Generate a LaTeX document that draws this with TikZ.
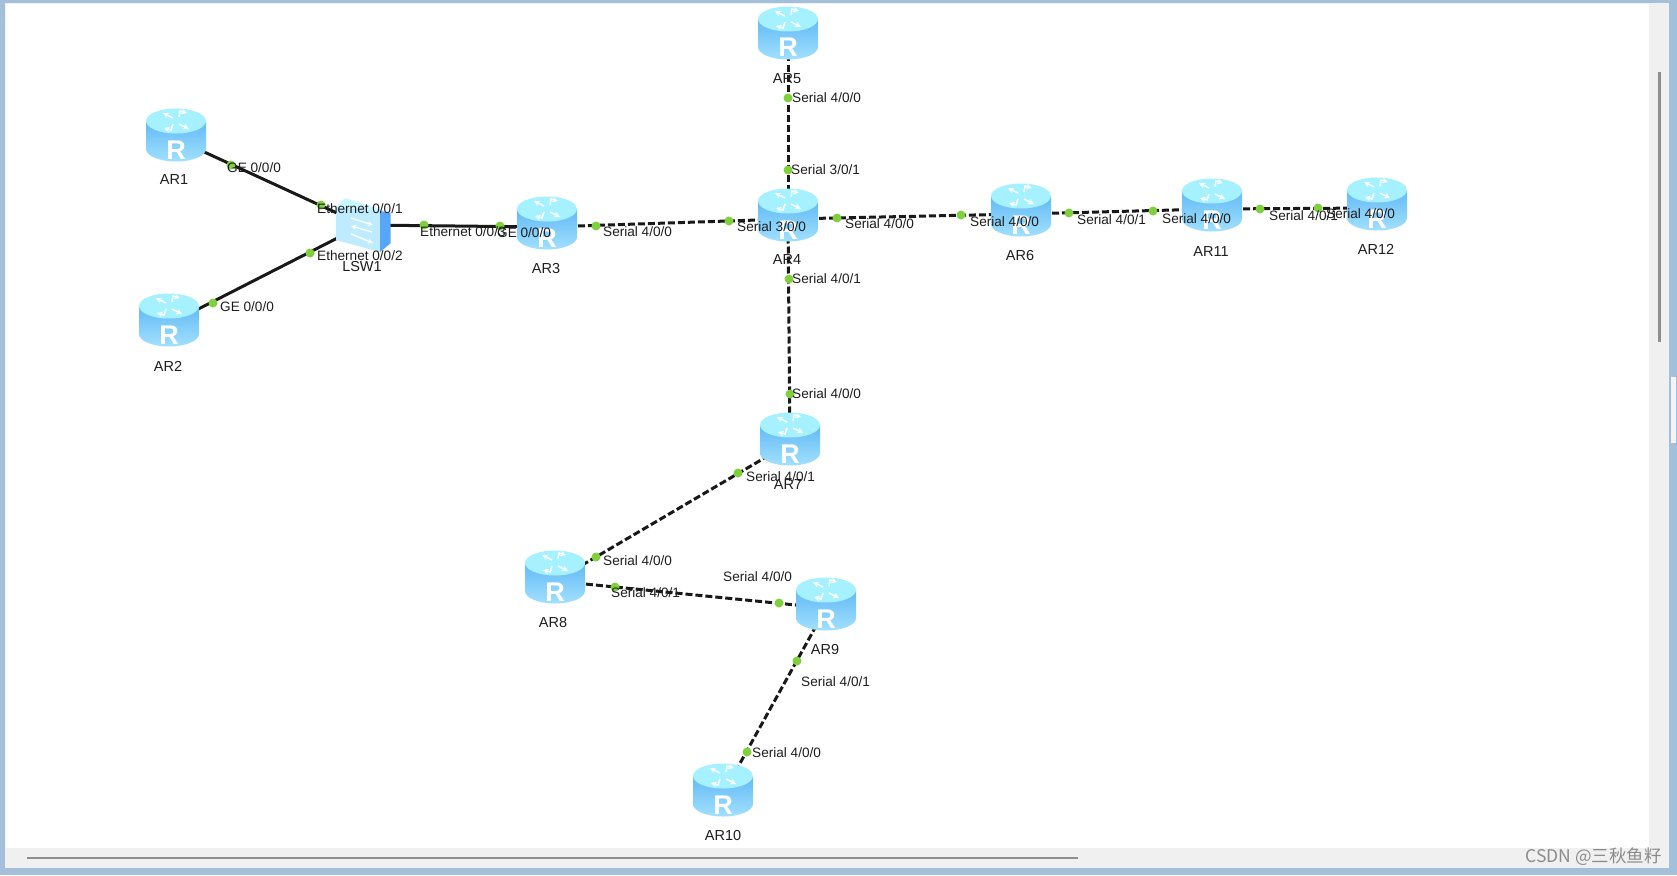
\documentclass[tikz,border=0pt]{standalone}
\usepackage{fontspec}
\setmainfont{Liberation Sans}
\newfontfamily\cjkfont{Noto Sans CJK SC}
\usetikzlibrary{shapes.geometric, arrows, backgrounds}

\definecolor{framecol}{HTML}{A3BFD9}
\definecolor{stripcol}{HTML}{F0F0F0}
\definecolor{barcol}{HTML}{8E8E8E}
\definecolor{dotcol}{HTML}{7FD03C}
\definecolor{bodytop}{HTML}{62BAF5}
\definecolor{bodylow}{HTML}{A4E2FF}
\definecolor{endcol}{HTML}{A6F1FF}
\definecolor{labelcol}{HTML}{1E1E1E}

\tikzstyle{router} = [rectangle, minimum width=60pt, minimum height=53pt, inner sep=0pt, outer sep=-9pt, text=white, font=\bfseries\fontsize{27}{27}\selectfont]
\tikzstyle{portarrow} = [white, line width=1.5pt, ->, >=stealth]
\tikzstyle{switch} = [rectangle, minimum width=55pt, minimum height=54pt, inner sep=0pt, outer sep=-5pt,
  path picture={
    \begin{scope}[shift={(path picture bounding box.center)}]
      \fill [bodylow!70!white] (-27,-18) -- (17,-14) -- (17,27) -- (-27,15) -- cycle;
      \fill [endcol!60!white] (-27,-18) -- (-18,-27) -- (28,-12) -- (17,-14) -- cycle;
      \fill [bodytop!90!blue] (17,-14) -- (28,-12) -- (28,18) -- (17,27) -- cycle;
      \draw [white, line width=1.3pt, ->, >=stealth] (-12,-7) -- (10,0);
      \draw [white, line width=1.3pt, <-, >=stealth] (-12,1) -- (9,7);
      \draw [white, line width=1.3pt, ->, >=stealth] (-12,9) -- (10,18);
    \end{scope}
  }]
\tikzstyle{portdot} = [circle, fill=dotcol, minimum size=9pt, inner sep=0pt]
\tikzstyle{devname} = [text=labelcol, font=\fontsize{14.5}{16}\selectfont, inner sep=0pt]
\tikzstyle{portname} = [text=labelcol, font=\fontsize{13.6}{15}\selectfont, anchor=west, inner sep=0pt]
\tikzstyle{serial} = [line width=3pt, black!90, dash pattern=on 7pt off 3pt]
\tikzstyle{ether} = [line width=3pt, black!90]

% router: name, x, y
\newcommand{\router}[3]{
  \begin{scope}[shift={(#2,#3)}]
    \begin{scope}
      \clip (-30,-14) arc (180:0:30pt and 12.5pt) -- (30,14) arc (0:-180:30pt and 12.5pt) -- cycle;
      \shade [top color=bodytop, bottom color=bodylow] (-31,-14) rectangle (31,28);
      \fill [endcol] (0,-14) ellipse (30pt and 12.5pt);
    \end{scope}
    \draw [portarrow] (-3,-17) -- (-7,-19) -- (-13,-22);
    \draw [portarrow] (3,-18) -- (4,-24) -- (11,-22);
    \draw [portarrow] (-3,-11) -- (-5,-5) -- (-12,-7);
    \draw [portarrow] (3,-11) -- (7,-9) -- (13,-6);
    \node (#1) [router] at (0,4) {\smash{\raisebox{-20pt}{R}}};
  \end{scope}
}

\begin{document}
\begin{tikzpicture}[x=1pt, y=-1pt]

        \useasboundingbox (0,0) rectangle (1677,875);

        % Nodes for routers
        \router{ar1}{176}{135}
        \router{ar2}{169}{320}
        \router{ar3}{547}{223}
        \router{ar4}{788}{215}
        \router{ar5}{788}{33}
        \router{ar6}{1021}{210}
        \router{ar7}{790}{439}
        \router{ar8}{555}{577}
        \router{ar9}{826}{604}
        \router{ar10}{723}{790}
        \router{ar11}{1212}{205}
        \router{ar12}{1377}{204}

        % Node for the switch
        \node (lsw1) [switch] at (363,225) {};

        % Window frame and scroll bars, then the links, all behind the devices
        \begin{scope}[on background layer]
        \fill [framecol] (0,0) rectangle (1677,875);
        \fill [stripcol] (5,3) rectangle (1669,868);
        \fill [white] (6,4) rectangle (1649,848);
        \fill [barcol] (27,856.5) rectangle (1078,859);
        \fill [barcol] (1658,72) rectangle (1660.5,342);
        \fill [white!85!framecol] (1671,377) rectangle (1676,443);

        \draw [ether] (ar1) -- (lsw1);
        \draw [ether] (ar2) -- (lsw1);
        \draw [ether] (lsw1) -- (ar3);
        \draw [serial] (ar3) -- (ar4);
        \draw [serial] (ar5) -- (ar4);
        \draw [serial] (ar4) -- (ar6);
        \draw [serial] (ar4) -- (ar7);
        \draw [serial] (ar7) -- (ar8);
        \draw [serial] (ar8) -- (ar9);
        \draw [serial] (ar9) -- (ar10);
        \draw [serial] (ar6) -- (ar11);
        \draw [serial] (ar11) -- (ar12);
        \end{scope}

        \node (mark) [text=black!45, font=\cjkfont\fontsize{17.5}{19}\selectfont, anchor=east, inner sep=0pt] at (1662,857) {CSDN @三秋鱼籽};

        % Port dots
        \node (dotA) [portdot] at (231,165) {};
        \node (dotB) [portdot] at (321,205) {};
        \node (dotC) [portdot] at (310,253) {};
        \node (dotD) [portdot] at (213,303) {};
        \node (dotE) [portdot] at (424,225) {};
        \node (dotF) [portdot] at (500,226) {};
        \node (dotG) [portdot] at (596,226) {};
        \node (dotH) [portdot] at (729,221) {};
        \node (dotI) [portdot] at (788,98) {};
        \node (dotJ) [portdot] at (788,170) {};
        \node (dotK) [portdot] at (789,279) {};
        \node (dotL) [portdot] at (790,394) {};
        \node (dotM) [portdot] at (837,218) {};
        \node (dotN) [portdot] at (961,215) {};
        \node (dotO) [portdot] at (1069,213) {};
        \node (dotP) [portdot] at (1153,211) {};
        \node (dotQ) [portdot] at (1260,209) {};
        \node (dotR) [portdot] at (1318,208) {};
        \node (dotS) [portdot] at (738,473) {};
        \node (dotT) [portdot] at (596,557) {};
        \node (dotU) [portdot] at (615,587) {};
        \node (dotV) [portdot] at (779,603) {};
        \node (dotW) [portdot] at (797,661) {};
        \node (dotX) [portdot] at (747,752) {};

        % Device names
        \node (nameAR1) [devname] at (174,180) {AR1};
        \node (nameAR2) [devname] at (168,366) {AR2};
        \node (nameAR3) [devname] at (546,269) {AR3};
        \node (nameAR4) [devname] at (787,260) {AR4};
        \node (nameAR5) [devname] at (787,79) {AR5};
        \node (nameAR6) [devname] at (1020,256) {AR6};
        \node (nameAR7) [devname] at (788,485) {AR7};
        \node (nameAR8) [devname] at (553,622) {AR8};
        \node (nameAR9) [devname] at (825,649) {AR9};
        \node (nameAR10) [devname] at (723,835) {AR10};
        \node (nameAR11) [devname] at (1211,252) {AR11};
        \node (nameAR12) [devname] at (1376,249) {AR12};
        \node (nameLSW1) [devname] at (362,267) {LSW1};

        % Port names
        \node (portA) [portname] at (227,168) {GE 0/0/0};
        \node (portB) [portname] at (317,209) {Ethernet 0/0/1};
        \node (portC) [portname] at (317,256) {Ethernet 0/0/2};
        \node (portD) [portname] at (220,307) {GE 0/0/0};
        \node (portE) [portname] at (420,232) {Ethernet 0/0/3};
        \node (portF) [portname] at (497,233) {GE 0/0/0};
        \node (portG) [portname] at (603,232) {Serial 4/0/0};
        \node (portH) [portname] at (737,227) {Serial 3/0/0};
        \node (portI) [portname] at (792,98) {Serial 4/0/0};
        \node (portJ) [portname] at (791,170) {Serial 3/0/1};
        \node (portK) [portname] at (792,279) {Serial 4/0/1};
        \node (portL) [portname] at (792,394) {Serial 4/0/0};
        \node (portM) [portname] at (845,224) {Serial 4/0/0};
        \node (portN) [portname] at (970,222) {Serial 4/0/0};
        \node (portO) [portname] at (1077,220) {Serial 4/0/1};
        \node (portP) [portname] at (1162,219) {Serial 4/0/0};
        \node (portQ) [portname] at (1269,216) {Serial 4/0/1};
        \node (portR) [portname] at (1326,214) {Serial 4/0/0};
        \node (portS) [portname] at (746,477) {Serial 4/0/1};
        \node (portT) [portname] at (603,561) {Serial 4/0/0};
        \node (portU) [portname] at (611,593) {Serial 4/0/1};
        \node (portV) [portname] at (723,577) {Serial 4/0/0};
        \node (portW) [portname] at (801,682) {Serial 4/0/1};
        \node (portX) [portname] at (752,753) {Serial 4/0/0};

    \end{tikzpicture}
\end{document}
